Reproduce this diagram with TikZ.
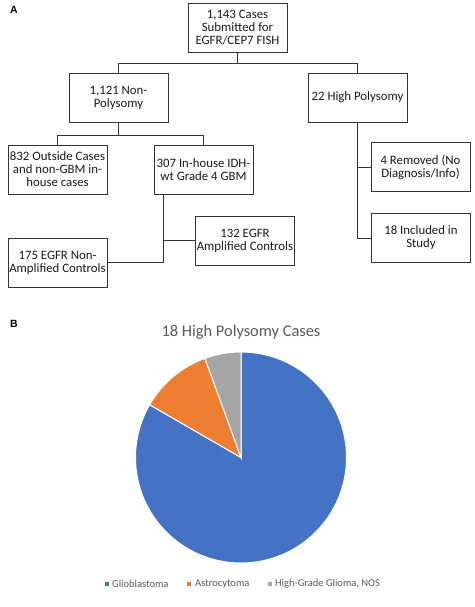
\documentclass[tikz,border=0pt]{standalone}
\usepackage{fontspec}
\setmainfont{Carlito}
\newfontfamily\labfont{Liberation Sans}
\usetikzlibrary{calc}
\definecolor{pblue}{HTML}{4472C4}
\definecolor{porange}{HTML}{ED7D31}
\definecolor{pgray}{HTML}{A5A5A5}
\definecolor{linec}{HTML}{333333}
\definecolor{txtc}{HTML}{1A1A1A}
\definecolor{titlec}{HTML}{595959}
\begin{document}
\begin{tikzpicture}[x=1pt,y=-1pt,
  box/.style={draw=linec,line width=0.9pt,minimum width=99pt,minimum height=49pt,align=center,inner sep=1pt,font=\fontsize{12.8}{13}\selectfont,text=txtc},
  conn/.style={draw=linec,line width=0.9pt},
  lab/.style={font=\labfont\bfseries\fontsize{10.5}{12}\selectfont},
  leg/.style={font=\fontsize{10.5}{12}\selectfont,text=titlec,anchor=west,inner sep=0pt}]
\useasboundingbox (0,0) rectangle (474,607);
\fill[white] (0,0) rectangle (474,607);
\node[lab] (la) at (14,10) {A};
\node[lab] (lb) at (14,324) {B};
\node[box] (b1) at (237.5,27.5) {1,143 Cases\\Submitted for\\EGFR/CEP7 FISH};
\node[box] (b2) at (118.5,97.5) {1,121 Non-\\Polysomy};
\node[box] (b3) at (357.5,97.5) {22 High Polysomy};
\node[box] (b4) at (57.5,169.5) {832 Outside Cases\\and non-GBM in-\\house cases};
\node[box] (b5) at (203.5,169.5) {307 In-house IDH-\\wt Grade 4 GBM};
\node[box] (b6) at (245,240.5) {132 EGFR\\Amplified Controls};
\node[box] (b7) at (57.5,262.5) {175 EGFR Non-\\Amplified Controls};
\node[box] (b8) at (420.5,167) {4 Removed (No\\Diagnosis/Info)};
\node[box] (b9) at (421,238) {18 Included in\\Study};
\draw[conn] (b1.south) -- ++(0,11) -| (b2.north);
\draw[conn] (b1.south) -- ++(0,11) -| (b3.north);
\draw[conn] (b2.south) -- ++(0,13) -| (b4.north);
\draw[conn] (b2.south) -- ++(0,13) -| (b5.north);
\coordinate (v5) at (163,194);
\draw[conn] (v5) |- (b7.east);
\draw[conn] (v5 |- b6.west) -- (b6.west);
\draw[conn] (b3.south) |- (b8.west);
\draw[conn] (b3.south) |- (b9.west);
% pie chart
\node[font=\fontsize{16.4}{18}\selectfont,text=titlec] (title) at (241,332) {18 High Polysomy Cases};
\coordinate (pc) at (241,457.5);
\begin{scope}[y=1pt]
\fill[pblue,draw=white,line width=1pt] (pc) -- ++(90:105.5) arc[start angle=90,end angle=-210,radius=105.5] -- cycle;
\fill[porange,draw=white,line width=1pt] (pc) -- ++(150:105.5) arc[start angle=150,end angle=110,radius=105.5] -- cycle;
\fill[pgray,draw=white,line width=1pt] (pc) -- ++(110:105.5) arc[start angle=110,end angle=90,radius=105.5] -- cycle;
\end{scope}
% legend
\fill[pblue] (105,581.5) rectangle ++(4,4);
\node[leg] (l1) at (112,583.5) {Glioblastoma};
\fill[porange] (186.5,581.5) rectangle ++(4,4);
\node[leg] (l2) at (195,583.5) {Astrocytoma};
\fill[pgray] (267.5,581.5) rectangle ++(4,4);
\node[leg] (l3) at (275,583.5) {High-Grade Glioma, NOS};
\end{tikzpicture}
\end{document}
